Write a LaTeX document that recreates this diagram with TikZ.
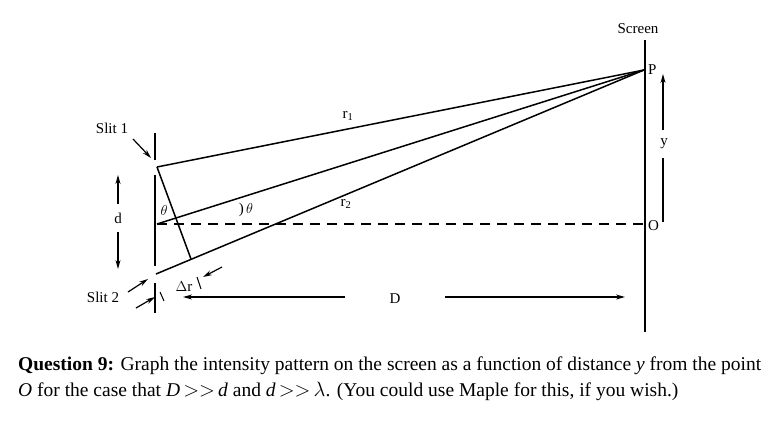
\documentclass[tikz,border=0pt]{standalone}
\usepackage{fontspec}
\setmainfont{Liberation Serif}
\usetikzlibrary{arrows.meta}
\begin{document}
\begin{tikzpicture}[x=1pt,y=-1pt,
  ln/.style={line width=1.5pt},
  arr/.style={line width=1.2pt,-{Stealth[length=9pt,width=5pt]}},
  lbl/.style={font=\fontsize{15}{17}\selectfont,inner sep=1pt},
  txt/.style={font=\fontsize{19.5}{22}\selectfont,anchor=west,inner sep=0pt}]
\path[fill=white] (0,0) rectangle (781,424);
% barrier
\draw[ln] (155,133) -- (155,160);
\draw[ln] (155,175) -- (155,266);
\draw[ln] (155,283) -- (155,313);
% screen
\draw[line width=2pt] (645,40) -- (645,332);
\coordinate (s1) at (157,167);
\coordinate (m) at (157,224);
\coordinate (s2) at (156,274);
\coordinate (P) at (644,70);
\coordinate (O) at (644,224);
\coordinate (f) at (191,259);
\draw[ln] (s1) -- (P);
\draw[ln] (m) -- (P);
\draw[ln] (s2) -- (P);
\draw[ln] (s1) -- (f);
\draw[ln,dash pattern=on 10pt off 7pt] (m) -- (O);
\node[lbl] (r1) at (348,116) {r\textsubscript{1}};
\node[lbl] (r2) at (346,204) {r\textsubscript{2}};
\node[lbl] (th1) at (164,210) {$\theta$};
\node[lbl] (th2) at (246,210) {)$\,\theta$};
\node[lbl,anchor=south] (scr) at (638,35) {Screen};
\node[lbl,anchor=west] (Pl) at (647,70) {P};
\node[lbl,anchor=west] (Ol) at (647,226) {O};
% y arrow
\node[lbl] (yl) at (664,144) {y};
\draw[arr] (663,130) -- (663,74);
\draw[line width=1.2pt] (663,158) -- (663,222);
% d
\node[lbl] (dl) at (118,218) {d};
\draw[arr] (118,204) -- (118,175);
\draw[arr] (118,232) -- (118,269);
% slits
\node[lbl] (sl1) at (112,128) {Slit 1};
\draw[arr] (133,139) -- (151,158);
\node[lbl] (sl2) at (103,297) {Slit 2};
\draw[arr] (128,292) -- (148,279);
\draw[arr] (136,308) -- (155,297);
\draw[line width=1pt] (160,292) -- (164,301);
\draw[line width=1pt] (197,277) -- (201,289);
\draw[arr] (222,267) -- (203,277);
\node[lbl] (dr) at (184,287) {$\Delta$r};
% D
\node[lbl] (Dl) at (395,299) {D};
\draw[arr] (345,297) -- (183,297);
\draw[arr] (445,297) -- (625,297);
\node[txt] (q1) at (18,366) {\textbf{Question 9:} Graph the intensity pattern on the screen as a function of distance \textit{y} from the point};
\node[txt] (q2) at (18,391) {\textit{O} for the case that \textit{D}\,$>>$\,\textit{d} and \textit{d}\,$>>$\,$\lambda$. (You could use Maple for this, if you wish.)};
\end{tikzpicture}
\end{document}
